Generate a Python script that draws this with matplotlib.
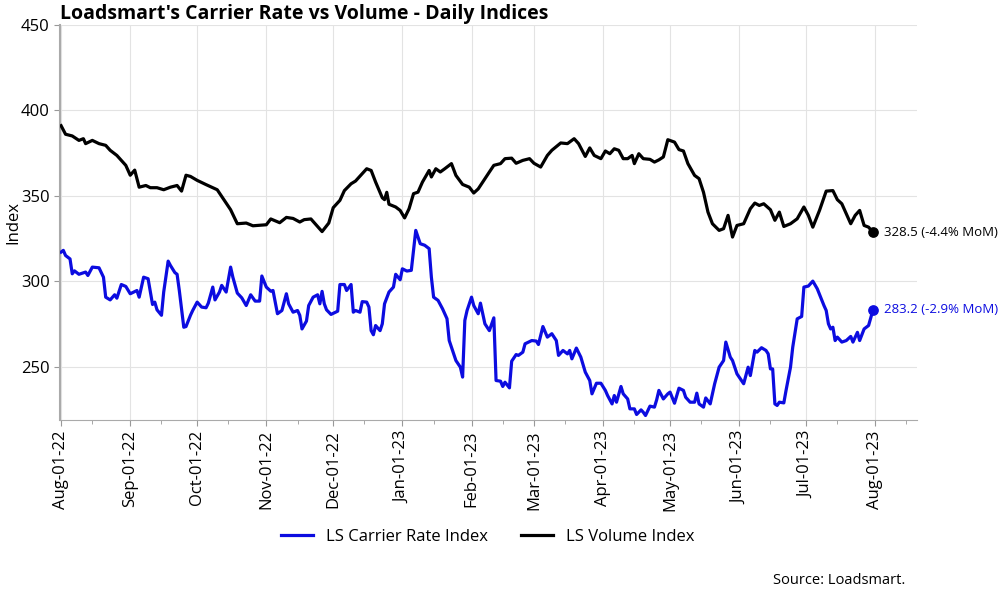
import pandas as pd
import matplotlib.pyplot as plt
import matplotlib.dates as mdates

plt.rcParams['font.family'] = ['Open Sans', 'DejaVu Sans']

start = pd.Timestamp('2022-08-01')

# LS Volume Index (day offset from Aug-01-22, value)
vol_day = [0, 2, 5, 8, 10, 11, 14, 17, 20, 22, 25, 27, 29, 31, 33, 35, 38, 40, 43, 46,
           49, 52, 54, 56, 58, 61, 65, 70, 73, 76, 79, 83, 86, 92, 94, 98, 101, 104, 107, 109,
           112, 115, 117, 120, 122, 125, 127, 130, 132, 135, 137, 139, 141, 144, 145, 146, 147, 150, 152, 154,
           156, 158, 160, 162, 165, 166, 168, 170, 172, 175, 177, 180, 183, 185, 187, 190, 192, 194, 197, 199,
           202, 204, 207, 210, 212, 215, 218, 220, 224, 227, 230, 232, 235, 237, 239, 242, 244, 246, 248, 250,
           252, 254, 256, 257, 259, 261, 264, 266, 268, 270, 272, 275, 277, 279, 281, 284, 286, 288, 290, 292,
           295, 297, 299, 301, 303, 306, 309, 311, 313, 315, 318, 320, 322, 324, 327, 330, 333, 335, 337, 340,
           343, 346, 348, 350, 352, 354, 356, 358, 360, 362, 364]
vol_val = [391, 386, 385, 382.4, 383.4, 380.5, 382.4, 380.5, 379.5, 376.6, 373.6, 370.7, 367.8, 362, 365, 355, 356, 354.7, 354.7, 353.5,
           355, 356, 352.7, 362, 361.3, 359, 356.5, 353.5, 347.7, 341.8, 333.6, 334, 332.4, 333, 336.4, 334.2, 337.3, 336.7, 334.6, 336,
           336.4, 332, 329, 334, 343, 347.3, 353, 357, 358.6, 362.9, 365.8, 364.8, 358, 348.8, 347.7, 352, 345, 343.4, 341.4, 337,
           342.4, 351.2, 352.1, 358, 364.8, 361, 365.8, 363.9, 365.8, 368.8, 361.9, 356.6, 355, 351.6, 354, 360, 363.9, 367.8, 368.8, 371.7,
           372, 369, 370.7, 371.7, 369, 366.8, 373.6, 376.6, 380.9, 380.5, 383.4, 380.5, 373, 378, 373.6, 371.7, 376.2, 374.6, 377.5, 376.6,
           371.7, 371.7, 373.6, 368.8, 374.6, 371.7, 371.3, 369.7, 371, 372.7, 382.8, 381.4, 377, 376.2, 368.8, 361.9, 360, 352, 340.4, 333.6,
           329.7, 330.7, 338.5, 325.8, 332.6, 333.6, 342.4, 345.7, 344.3, 345.3, 341.8, 335.6, 340.4, 332, 333.6, 336.5, 343.4, 338.5, 331.6, 341.4,
           352.7, 353, 347.7, 345.3, 339.5, 333.6, 338.5, 341.4, 332.6, 331.6, 328.5]

# LS Carrier Rate Index
rate_day = [0, 1, 2, 4, 5, 6, 8, 11, 12, 14, 17, 19, 20, 22, 24, 25, 27, 29, 31, 34,
            35, 37, 39, 41, 42, 43, 45, 46, 48, 49, 51, 52, 53, 55, 56, 58, 59, 61, 63, 65,
            66, 68, 69, 71, 72, 74, 76, 77, 79, 81, 83, 85, 87, 89, 90, 92, 94, 95, 97, 99,
            101, 102, 104, 106, 107, 108, 110, 111, 113, 115, 116, 117, 118, 119, 121, 124, 125, 127, 128, 130,
            131, 132, 134, 135, 137, 138, 139, 140, 141, 143, 144, 145, 147, 149, 150, 152, 153, 155, 157, 158,
            159, 161, 163, 165, 166, 167, 169, 171, 173, 174, 176, 177, 179, 180, 181, 182, 184, 185, 187, 188,
            190, 192, 194, 195, 197, 198, 199, 201, 202, 204, 205, 207, 208, 211, 213, 214, 216, 218, 220, 222,
            223, 225, 227, 228, 229, 231, 233, 235, 237, 238, 240, 242, 244, 245, 247, 248, 249, 251, 252, 254,
            255, 257, 258, 260, 261, 262, 264, 266, 267, 268, 270, 272, 273, 275, 277, 279, 280, 282, 284, 285,
            286, 288, 289, 291, 293, 295, 297, 298, 300, 301, 303, 304, 306, 307, 308, 309, 311, 312, 314, 316,
            317, 318, 319, 320, 321, 322, 324, 325, 327, 328, 330, 332, 333, 335, 337, 339, 342, 343, 344, 345,
            346, 347, 348, 350, 352, 354, 355, 357, 358, 360, 362, 364]
rate_val = [317, 318, 315, 313, 304.3, 306, 304, 305.3, 303.3, 308.2, 307.8, 302.3, 290.6, 289, 292, 290, 298, 296.9, 292.6, 294.5,
            290.6, 302.3, 301.4, 286.3, 287.7, 283.2, 280, 293.6, 311.7, 309.2, 305, 304, 294.5, 273, 273.4, 280, 282.8, 287.7, 284.8, 284.4,
            287.1, 296.5, 289, 293.6, 297.5, 293.6, 308.2, 302.3, 293, 290.2, 285.7, 292, 288.3, 288.3, 303, 296.5, 294.1, 294.5, 280.9, 282.8,
            292.6, 286.7, 281.8, 282.8, 280, 272, 276.6, 285.7, 290.6, 292, 286.7, 294, 286.7, 283.2, 280.5, 282.4, 298, 298, 294.5, 298,
            281.8, 282.8, 281.8, 288, 287.7, 284.8, 271, 268.6, 274, 271, 275, 286.7, 293.6, 296.5, 304, 300.8, 307.2, 305.9, 306.3, 318,
            329.7, 321.9, 321, 319, 302.3, 290.6, 288.7, 283.8, 278, 265.2, 257.4, 253.5, 249.6, 243.8, 277, 282.8, 290.6, 285.7, 280.9, 287.1,
            275, 271, 278.5, 241.8, 241.4, 238.3, 240.8, 237.5, 253.1, 257, 256.5, 258.4, 263.3, 265.2, 264.9, 262.9, 273.4, 267.2, 269.2, 265.2,
            256.5, 259.4, 257.4, 259.4, 254.5, 260.8, 255.5, 246.7, 241.8, 234, 240.2, 240.2, 236, 233, 228.1, 233, 229.1, 238.3, 234, 231,
            225.2, 225.2, 221.9, 224.6, 223.2, 221.3, 226.8, 226.2, 230.5, 236, 231, 234, 235, 228.5, 237.3, 236, 232, 229.1, 229.1, 234.4,
            228.1, 226.2, 231.6, 228.1, 239.9, 249.6, 253.5, 264.3, 255.5, 253.5, 245.7, 243.8, 239.9, 244.7, 249.6, 244.7, 259.4, 258.4, 261, 259.4,
            257.4, 248.6, 248.6, 228.1, 227.2, 229.1, 228.7, 236, 249.6, 261.3, 277.9, 279.3, 296.5, 297.1, 300, 295.5, 285.7, 282.8, 275, 272,
            273, 265.2, 267.2, 264.3, 265.2, 267.6, 264.3, 270, 265.2, 272, 274, 283.2]

vol_label = '328.5 (-4.4% MoM)'
rate_label = '283.2 (-2.9% MoM)'

blue = '#0c0ce0'
vol_dates = start + pd.to_timedelta(vol_day, unit='D')
rate_dates = start + pd.to_timedelta(rate_day, unit='D')

fig = plt.figure(figsize=(10.08, 5.94), dpi=100)
ax = fig.add_axes([0.0595, 0.293, 0.8505, 0.665])

ax.plot(rate_dates, rate_val, color=blue, lw=2.3, label='LS Carrier Rate Index', zorder=3)
ax.plot(vol_dates, vol_val, color='black', lw=2.3, label='LS Volume Index', zorder=3)

# end markers + labels
ax.scatter([vol_dates[-1]], [vol_val[-1]], s=45, color='black', zorder=4)
ax.scatter([rate_dates[-1]], [rate_val[-1]], s=45, color=blue, zorder=4)
ax.annotate(vol_label, (vol_dates[-1], vol_val[-1]), xytext=(8, 0), textcoords='offset points',
            va='center', fontsize=9.5, color='black')
ax.annotate(rate_label, (rate_dates[-1], rate_val[-1]), xytext=(8, 0), textcoords='offset points',
            va='center', fontsize=9.5, color=blue)

ax.set_xlim(pd.Timestamp('2022-07-31 12:00'), pd.Timestamp('2023-08-19 20:00'))
ax.set_ylim(218.7, 450)
ax.set_yticks([250, 300, 350, 400, 450])

ax.xaxis.set_major_locator(mdates.MonthLocator(bymonthday=1))
ax.xaxis.set_minor_locator(mdates.MonthLocator(bymonthday=15))
ax.xaxis.set_major_formatter(mdates.DateFormatter('%b-%d-%y'))
plt.setp(ax.get_xticklabels(), rotation=90)

ax.grid(True, which='major', color='#e3e3e3', lw=0.8)
ax.set_axisbelow(True)
for s in ['top', 'right']:
    ax.spines[s].set_visible(False)
for s in ['left', 'bottom']:
    ax.spines[s].set_color('#aaaaaa')
ax.spines['left'].set_linewidth(1.5)
ax.tick_params(axis='y', which='major', labelsize=12, length=4, color='#999999')
ax.tick_params(axis='x', which='major', labelsize=12, length=4, color='#999999')
ax.tick_params(axis='x', which='minor', length=3, color='#999999')
ax.set_ylabel('Index', fontsize=12)
ax.yaxis.set_label_coords(-0.045, 0.5)

fig.text(0.0595, 0.977, "Loadsmart's Carrier Rate vs Volume - Daily Indices",
         fontsize=14, fontweight='bold', ha='left', va='center')

fig.legend(loc='center', bbox_to_anchor=(0.484, 0.096), ncol=2, frameon=False,
           fontsize=12, handlelength=1.9, columnspacing=2.0)

fig.text(0.898, 0.023, 'Source: Loadsmart.', fontsize=10.5, ha='right', va='center')

fig.savefig('out.png', dpi=100)
